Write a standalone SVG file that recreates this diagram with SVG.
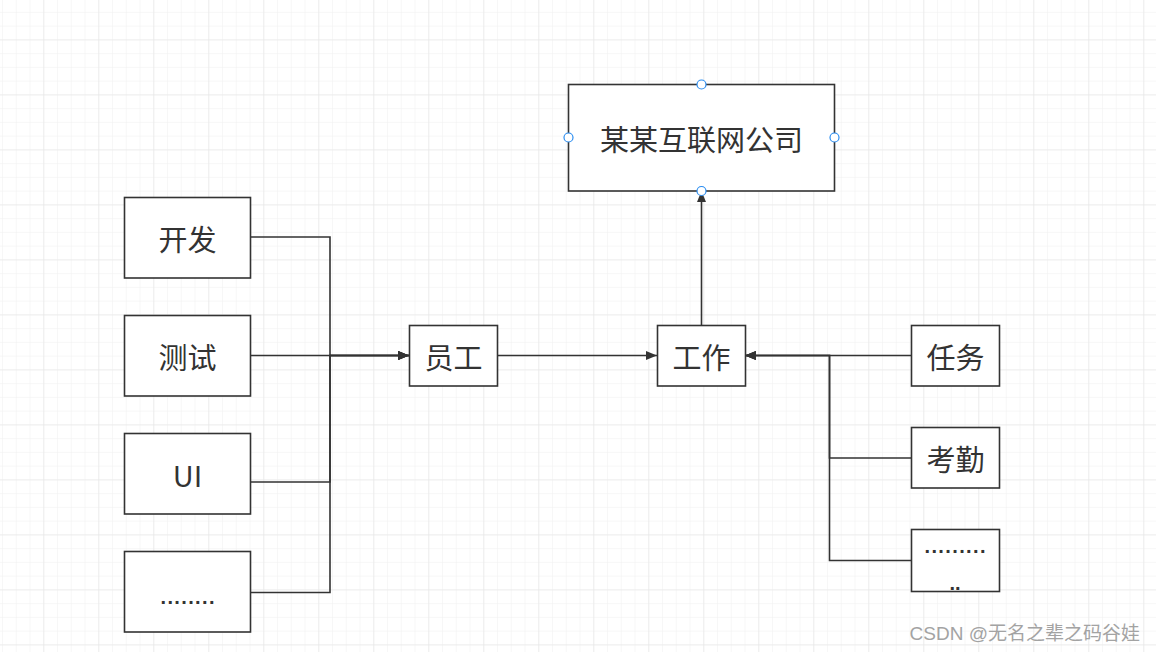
<svg xmlns="http://www.w3.org/2000/svg" width="1156" height="652" viewBox="0 0 1156 652">
<defs>
<pattern id="minor" x="43.3" y="39.4" width="13.75" height="13.75" patternUnits="userSpaceOnUse">
<path d="M0 0H13.75M0 0V13.75" fill="none" stroke="#efefef" stroke-width="1"/>
</pattern>
<pattern id="major" x="43.3" y="39.4" width="55" height="55" patternUnits="userSpaceOnUse">
<path d="M0 0H55M0 0V55" fill="none" stroke="#e4e4e4" stroke-width="1"/>
</pattern>
<marker id="arr" viewBox="0 0 11 9" refX="11" refY="4.5" markerWidth="11" markerHeight="9" markerUnits="userSpaceOnUse" orient="auto">
<path d="M0 0L11 4.5L0 9Z" fill="#333"/>
</marker>
<style>
.box{fill:#fff;stroke:#333;stroke-width:1.6}
.t{font-family:"Noto Sans CJK SC","Liberation Sans",sans-serif;font-size:29px;fill:#333;text-anchor:middle;dominant-baseline:central}
.d{font-family:"Liberation Sans",sans-serif;font-size:20px;font-weight:bold;fill:#333;text-anchor:middle}
.c{fill:none;stroke:#333;stroke-width:1.6}
.h{fill:#fff;stroke:#2a8cf0;stroke-width:1.2}
</style>
</defs>
<rect width="1156" height="652" fill="#fff"/>
<rect width="1156" height="652" fill="url(#minor)"/>
<rect width="1156" height="652" fill="url(#major)"/>

<g id="connectors">
<polyline class="c" points="250,237 330,237 330,355.5 409,355.5" marker-end="url(#arr)"/>
<polyline class="c" points="250,355.5 409,355.5" marker-end="url(#arr)"/>
<polyline class="c" points="250,482 330,482 330,355.5 409,355.5" marker-end="url(#arr)"/>
<polyline class="c" points="250,592.5 330,592.5 330,355.5 409,355.5" marker-end="url(#arr)"/>
<polyline class="c" points="497,355.5 657,355.5" marker-end="url(#arr)"/>
<polyline class="c" points="701.5,325 701.5,191" marker-end="url(#arr)"/>
<polyline class="c" points="911,355.5 745,355.5" marker-end="url(#arr)"/>
<polyline class="c" points="911,458 829.5,458 829.5,355.5 745,355.5" marker-end="url(#arr)"/>
<polyline class="c" points="911,560.5 829.5,560.5 829.5,355.5 745,355.5" marker-end="url(#arr)"/>
</g>

<g id="company">
<rect class="box" x="568.5" y="84.5" width="266" height="106.5"/>
<text class="t" x="701.5" y="138">某某互联网公司</text>
<circle class="h" cx="701.5" cy="84.5" r="4.5"/>
<circle class="h" cx="568.5" cy="137.5" r="4.5"/>
<circle class="h" cx="834.5" cy="137.5" r="4.5"/>
<circle class="h" cx="701.5" cy="191" r="4.5"/>
</g>
<g id="dev">
<rect class="box" x="124.5" y="197.5" width="126" height="80.5"/>
<text class="t" x="187.5" y="238">开发</text>
</g>
<g id="test">
<rect class="box" x="124.5" y="315.5" width="126" height="80.5"/>
<text class="t" x="187.5" y="356">测试</text>
</g>
<g id="ui">
<rect class="box" x="124.5" y="433.5" width="126" height="80.5"/>
<text class="t" x="187.5" y="474">UI</text>
</g>
<g id="more-left">
<rect class="box" x="124.5" y="551.5" width="126" height="80.5"/>
<text class="d" x="187.5" y="604" textLength="54" lengthAdjust="spacing">........</text>
</g>
<g id="staff">
<rect class="box" x="409.5" y="325.5" width="88" height="60.5"/>
<text class="t" x="453.5" y="356">员工</text>
</g>
<g id="work">
<rect class="box" x="657.5" y="325.5" width="88" height="60.5"/>
<text class="t" x="701.5" y="356">工作</text>
</g>
<g id="task">
<rect class="box" x="911.5" y="325.5" width="88" height="60.5"/>
<text class="t" x="955.5" y="356">任务</text>
</g>
<g id="attendance">
<rect class="box" x="911.5" y="427.5" width="88" height="60.5"/>
<text class="t" x="955.5" y="458">考勤</text>
</g>
<g id="more-right">
<rect class="box" x="911.5" y="529.5" width="88" height="62"/>
<text class="d" x="955" y="553" textLength="61" lengthAdjust="spacing">.........</text>
<text class="d" x="955" y="590">..</text>
</g>
<text x="1140" y="640" text-anchor="end" font-family="'Liberation Sans','Noto Sans CJK SC',sans-serif" font-size="19" fill="#a3a3a3">CSDN @无名之辈之码谷娃</text>
</svg>
